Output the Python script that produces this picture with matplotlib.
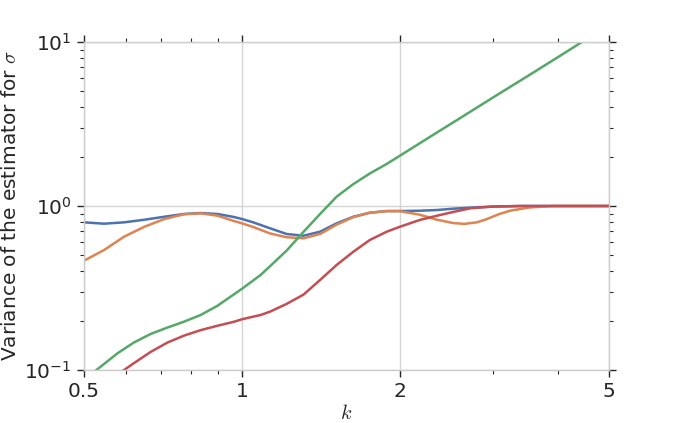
import matplotlib
matplotlib.use("Agg")
import matplotlib.pyplot as plt
from matplotlib.ticker import FixedLocator, NullFormatter, LogLocator

# values (k, variance)
k_blue = [0.5, 0.546, 0.596, 0.652, 0.711, 0.775, 0.834, 0.898, 0.965, 1.0, 1.05, 1.131,
          1.216, 1.309, 1.408, 1.514, 1.629, 1.752, 1.886, 2.0, 2.18, 2.35, 2.525, 2.72,
          3.0, 3.4, 5.0]
v_blue = [0.795, 0.78, 0.795, 0.825, 0.86, 0.894, 0.906, 0.894, 0.857, 0.833, 0.795, 0.731,
          0.675, 0.659, 0.697, 0.784, 0.86, 0.91, 0.932, 0.932, 0.936, 0.945, 0.963, 0.977,
          0.992, 1.0, 1.0]

k_orange = [0.5, 0.546, 0.596, 0.652, 0.711, 0.775, 0.834, 0.898, 0.965, 1.0, 1.05, 1.131,
            1.216, 1.309, 1.408, 1.514, 1.629, 1.752, 1.886, 2.0, 2.18, 2.35, 2.525, 2.65,
            2.8, 2.92, 3.08, 3.24, 3.53, 3.9, 5.0]
v_orange = [0.464, 0.539, 0.65, 0.748, 0.833, 0.89, 0.902, 0.873, 0.81, 0.784, 0.745, 0.68,
            0.645, 0.635, 0.675, 0.77, 0.855, 0.91, 0.93, 0.93, 0.885, 0.825, 0.787, 0.778,
            0.795, 0.83, 0.89, 0.936, 0.98, 1.0, 1.0]

k_green = [0.5, 0.528, 0.579, 0.622, 0.670, 0.721, 0.775, 0.834, 0.897, 0.966, 1.0, 1.085,
           1.131, 1.216, 1.309, 1.408, 1.514, 1.629, 1.752, 1.886, 2.0, 2.28, 2.6, 3.01,
           3.5, 4.0, 4.44, 5.0]
v_green = [0.088, 0.1, 0.1264, 0.147, 0.166, 0.1815, 0.197, 0.2165, 0.246, 0.29, 0.313, 0.38,
           0.43, 0.535, 0.695, 0.894, 1.14, 1.36, 1.58, 1.805, 2.03, 2.64, 3.43, 4.6,
           6.2, 8.1, 10.0, 12.7]

k_red = [0.55, 0.596, 0.622, 0.670, 0.721, 0.775, 0.834, 0.897, 0.966, 1.0, 1.085, 1.131,
         1.216, 1.309, 1.408, 1.514, 1.629, 1.752, 1.886, 2.0, 2.18, 2.35, 2.525, 2.72,
         3.0, 3.4, 5.0]
v_red = [0.0838, 0.1, 0.11, 0.129, 0.147, 0.162, 0.175, 0.186, 0.197, 0.204, 0.2165, 0.227,
         0.253, 0.288, 0.354, 0.437, 0.526, 0.621, 0.697, 0.748, 0.822, 0.872, 0.92, 0.968,
         0.992, 1.0, 1.0]

xticks = [0.5, 1, 2, 5]
xticklabels = ["0.5", "1", "2", "5"]

colors = ["#4C72B0", "#DD8452", "#55A868", "#C44E52"]

plt.rcParams["font.family"] = ["DejaVu Sans"]
plt.rcParams["mathtext.fontset"] = "cm"
plt.rcParams["font.size"] = 14.5

fig = plt.figure(figsize=(6.76, 4.23), dpi=100)
ax = fig.add_axes([0.1243, 0.1253, 0.9009 - 0.1243, 0.9007 - 0.1253])

series = [(k_blue, v_blue), (k_orange, v_orange), (k_green, v_green), (k_red, v_red)]
for (k, v), c in zip(series, colors):
    ax.plot(k, v, color=c, linewidth=1.8, solid_joinstyle="round", solid_capstyle="round")

ax.set_xscale("log")
ax.set_yscale("log")
ax.set_xlim(0.5, 5)
ax.set_ylim(0.1, 10)

ax.xaxis.set_major_locator(FixedLocator(xticks))
ax.set_xticklabels(xticklabels)
ax.xaxis.set_minor_locator(LogLocator(base=10, subs=range(2, 10)))
ax.xaxis.set_minor_formatter(NullFormatter())
ax.yaxis.set_minor_locator(LogLocator(base=10, subs=range(2, 10)))
ax.yaxis.set_minor_formatter(NullFormatter())

ax.grid(True, which="major", color="#d5d5d5", linewidth=1)
ax.set_axisbelow(True)
for s in ax.spines.values():
    s.set_color("#cccccc")
    s.set_linewidth(1)

ax.tick_params(which="both", direction="out", top=True, right=True, color="#262626",
               labelcolor="#262626")
ax.tick_params(which="major", length=5, width=1, pad=4)
ax.tick_params(which="minor", length=3, width=0.8)

ax.set_xlabel("$k$", color="#262626", labelpad=2)
ax.set_ylabel(r"Variance of the estimator for $\sigma$", color="#262626", labelpad=3)

fig.savefig("out.png", dpi=100)
